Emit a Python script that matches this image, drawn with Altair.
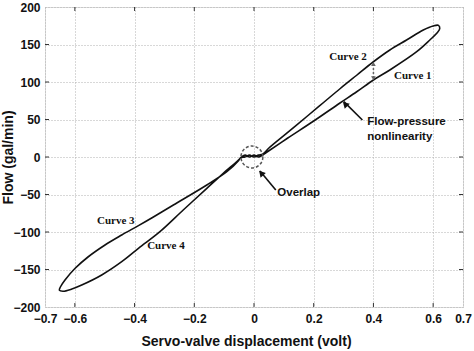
import altair as alt
import pandas as pd

# ---- data ----
# Curve 1 (origin -> right tip, lower branch, incl. overlap braid)
c1_x = [-0.045, -0.03, -0.015, 0.0, 0.015, 0.03, 0.045, 0.112, 0.2, 0.288, 0.344, 0.4, 0.455, 0.545, 0.589, 0.612, 0.622]
c1_y = [-1, 2.5, 0, 2.5, 0, 3, 7, 25, 48, 72, 87, 102.7, 116, 140.4, 156, 165, 171]
# Curve 2 (right tip -> origin, upper branch)
c2_x = [0.618, 0.600, 0.567, 0.511, 0.455, 0.4, 0.344, 0.288, 0.234, 0.18, 0.112, 0.05, 0.03, 0.015, 0.0, -0.015, -0.03, -0.045]
c2_y = [175.5, 174.7, 169.3, 156, 142.7, 127, 109, 91, 73, 55, 32.5, 12, 4, 2.5, 0, 2.5, 0, -1]
# Curve 3 (origin -> left tip, upper branch)
c3_x = [-0.052, -0.091, -0.158, -0.270, -0.337, -0.387, -0.443, -0.499, -0.555, -0.599, -0.633, -0.648, -0.652]
c3_y = [-5, -19.6, -37.3, -64, -80, -91.5, -104, -117.3, -133, -148.4, -164, -173, -177.5]
# Curve 4 (left tip -> origin, lower branch)
c4_x = [-0.640, -0.610, -0.577, -0.510, -0.443, -0.387, -0.315, -0.237, -0.158, -0.103, -0.052, -0.045]
c4_y = [-179, -176, -170.7, -157.3, -139.6, -121.8, -99.6, -70.7, -41.8, -21.8, -4, -1]

x_ticks = [-0.7, -0.6, -0.4, -0.2, 0, 0.2, 0.4, 0.6, 0.7]
y_ticks = [-200, -150, -100, -50, 0, 50, 100, 150, 200]
inner_x_ticks = [-0.6, -0.4, -0.2, 0, 0.2, 0.4, 0.6]
inner_y_ticks = [-150, -100, -50, 0, 50, 100, 150]

serif_text = ["Curve 2", "Curve 1", "Curve 3", "Curve 4"]
serif_x = [0.378, 0.469, -0.463, -0.295]
serif_y = [133.7, 108, -85, -118]
serif_align = ["right", "left", "center", "center"]

sans_text = ["Flow-pressure", "nonlinearity", "Overlap"]
sans_x = [0.379, 0.379, 0.078]
sans_y = [47, 27, -48.4]

# arrows: tail -> head
arrow_x = [0.363, 0.073]
arrow_y = [49.3, -44]
arrow_x2 = [0.301, 0.020]
arrow_y2 = [73.8, -18.7]
head_x = [0.305, 0.024]
head_y = [70.5, -21.5]
head_angle = [315, 318]

gap_x = [0.4]
gap_top = [124]
gap_bot = [105]

overlap_x = [-0.007]
overlap_y = [0]

# ---- build tables ----
xs = c1_x + c2_x + c3_x + c4_x
ys = c1_y + c2_y + c3_y + c4_y
loop = pd.DataFrame({"x": xs, "y": ys, "i": list(range(len(xs)))})

W, H = 418, 300
xscale = alt.Scale(domain=[-0.7, 0.7], nice=False, zero=False)
yscale = alt.Scale(domain=[-200, 200], nice=False, zero=False)

xaxis = alt.Axis(values=x_ticks, format=".1~f", title="Servo-valve displacement (volt)",
                 grid=True, gridDash=[1, 2], gridColor="#b0b0b0", ticks=False, domain=False,
                 labelFont="Liberation Sans", labelFontWeight="bold", labelFontSize=12,
                 labelColor="#111", labelPadding=6, labelFlush=False, labelOverlap=False,
                 titleFont="Liberation Sans", titleFontWeight="bold", titleFontSize=14,
                 titleColor="#111", titleX=201, titleY=34, titleBaseline="middle")
yaxis = alt.Axis(values=y_ticks, format="d", title="Flow (gal/min)",
                 grid=True, gridDash=[1, 2], gridColor="#b0b0b0", ticks=False, domain=False,
                 labelFont="Liberation Sans", labelFontWeight="bold", labelFontSize=12,
                 labelColor="#111", labelPadding=5, labelFlush=False, labelOverlap=False,
                 titleFont="Liberation Sans", titleFontWeight="bold", titleFontSize=14,
                 titleColor="#111", titleX=-37, titleY=150, titleBaseline="middle")

X = alt.X("x:Q", scale=xscale, axis=xaxis)
Y = alt.Y("y:Q", scale=yscale, axis=yaxis)

curve = alt.Chart(loop).mark_line(color="#111", strokeWidth=1.6, interpolate="catmull-rom").encode(
    x=X, y=Y, order=alt.Order("i:Q"),
)

# inward ticks on all four sides
tx = pd.DataFrame({"x": inner_x_ticks})
ty = pd.DataFrame({"y": inner_y_ticks})
tick_style = dict(color="#333", strokeWidth=1)
t_bottom = alt.Chart(tx).mark_rule(**tick_style).encode(x=X, y=alt.value(H - 4), y2=alt.value(H))
t_top = alt.Chart(tx).mark_rule(**tick_style).encode(x=X, y=alt.value(0), y2=alt.value(4))
t_left = alt.Chart(ty).mark_rule(**tick_style).encode(y=Y, x=alt.value(0), x2=alt.value(4))
t_right = alt.Chart(ty).mark_rule(**tick_style).encode(y=Y, x=alt.value(W - 4), x2=alt.value(W))

circ = alt.Chart(pd.DataFrame({"x": overlap_x, "y": overlap_y})).mark_point(
    shape="circle", size=480, filled=False, stroke="#555", strokeWidth=1.5, strokeDash=[3, 2], opacity=1
).encode(x=X, y=Y)

arr = pd.DataFrame({"x": arrow_x, "y": arrow_y, "x2": arrow_x2, "y2": arrow_y2})
arrows = alt.Chart(arr).mark_rule(color="#111", strokeWidth=1.6).encode(x=X, y=Y, x2="x2:Q", y2="y2:Q")
heads = alt.Chart(pd.DataFrame({"x": head_x, "y": head_y, "a": head_angle})).mark_point(
    shape="triangle-up", size=50, filled=True, color="#111", opacity=1
).encode(x=X, y=Y, angle=alt.Angle("a:Q", scale=None))

gap = pd.DataFrame({"x": gap_x, "y": gap_top, "y2": gap_bot})
gap_rule = alt.Chart(gap).mark_rule(color="#666", strokeWidth=1.5, strokeDash=[2, 2]).encode(x=X, y=Y, y2="y2:Q")
gap_up = alt.Chart(pd.DataFrame({"x": gap_x, "y": gap_top})).mark_point(
    shape="triangle-up", size=22, filled=True, color="#666", opacity=1
).encode(x=X, y=Y)
gap_dn = alt.Chart(pd.DataFrame({"x": gap_x, "y": gap_bot})).mark_point(
    shape="triangle-down", size=22, filled=True, color="#666", opacity=1
).encode(x=X, y=Y)

serif_df = pd.DataFrame({"x": serif_x, "y": serif_y, "t": serif_text, "al": serif_align})
serif_layers = []
for al in ["left", "right", "center"]:
    sub = serif_df[serif_df["al"] == al]
    serif_layers.append(
        alt.Chart(sub).mark_text(font="Liberation Serif", fontWeight="bold", fontSize=11,
                                 color="#111", align=al, baseline="middle").encode(
            x=X, y=Y, text="t:N"))

sans = alt.Chart(pd.DataFrame({"x": sans_x, "y": sans_y, "t": sans_text})).mark_text(
    font="Liberation Sans", fontWeight="bold", fontSize=11.5, color="#111", align="left", baseline="middle"
).encode(x=X, y=Y, text="t:N")

chart = alt.layer(
    curve, t_bottom, t_top, t_left, t_right, circ, arrows, heads, gap_rule, gap_up, gap_dn,
    *serif_layers, sans
).properties(
    width=W, height=H, autosize="none",
    padding={"left": 45, "top": 7, "right": 11, "bottom": 44},
).configure_view(stroke="#333", strokeWidth=1).configure(background="white")

chart.save("out.html", embed_options={"renderer": "svg", "actions": False})
